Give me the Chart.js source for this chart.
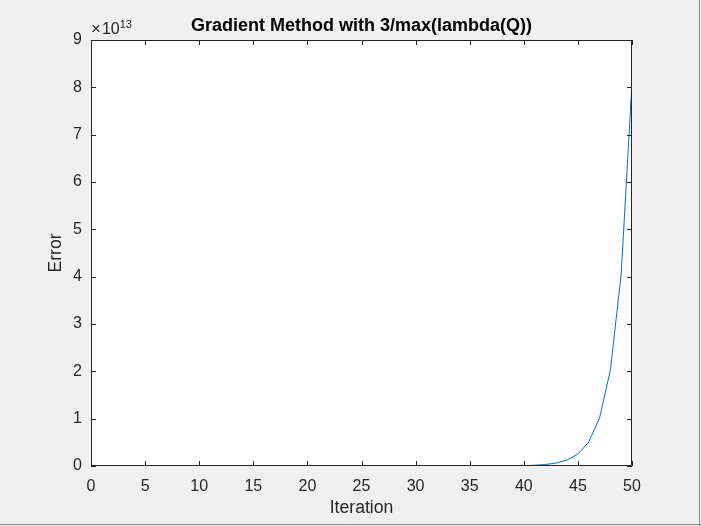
<!DOCTYPE html>
<html>
<head>
<meta charset="utf-8">
<script src="https://cdn.jsdelivr.net/npm/chart.js@4"></script>
<style>
  html, body { margin: 0; padding: 0; background: #f0f0f0; }
  #wrap { width: 701px; height: 526px; position: relative; }
</style>
</head>
<body>
<div id="wrap"><canvas id="chart" width="701" height="526"></canvas></div>
<script>
// Data (error in units of 1e13)
var iterations = [1, 2, 3, 4, 5, 6, 7, 8, 9, 10,
    11, 12, 13, 14, 15, 16, 17, 18, 19, 20,
    21, 22, 23, 24, 25, 26, 27, 28, 29, 30,
    31, 32, 33, 34, 35, 36, 37, 38, 39, 40,
    41, 42, 43, 44, 45, 46, 47, 48, 49, 50];
var errorVals = [0, 0, 0, 0, 0, 0, 0, 0, 0, 0,
    0, 0, 0, 0, 0, 0, 0, 0, 0, 0,
    0, 0, 0, 0, 0, 0, 0, 0, 0, 0,
    0, 0, 0, 0.0001, 0.0002, 0.0005, 0.0010, 0.0020, 0.0040, 0.0079,
    0.0158, 0.0316, 0.0633, 0.1266, 0.2531, 0.5063, 1.0125, 2.025, 4.05, 8.1];
var xTicks = [0, 5, 10, 15, 20, 25, 30, 35, 40, 45, 50];
var yTicks = [0, 1, 2, 3, 4, 5, 6, 7, 8, 9];

var titleText = 'Gradient Method with 3/max(lambda(Q))';
var fontFam = "'Liberation Sans', Arial, Helvetica, sans-serif";
var axisColor = '#262626';

// Figure background, white axes, box + inward ticks, title, exponent
var matlabAxes = {
    id: 'matlabAxes',
    beforeDraw: function (chart) {
        const ctx = chart.ctx;
        const a = chart.chartArea;
        ctx.save();
        ctx.fillStyle = '#f0f0f0';
        ctx.fillRect(0, 0, chart.width, chart.height);
        ctx.fillStyle = '#ffffff';
        ctx.fillRect(a.left, a.top, a.right - a.left, a.bottom - a.top);
        ctx.restore();
    },
    afterDraw: function (chart) {
        const ctx = chart.ctx;
        const a = chart.chartArea;
        const xs = chart.scales.x;
        const ys = chart.scales.y;
        const tl = 5;
        ctx.save();
        ctx.strokeStyle = axisColor;
        ctx.lineWidth = 1;
        ctx.beginPath();
        ctx.rect(Math.round(a.left) + 0.5, Math.round(a.top) + 0.5,
            Math.round(a.right - a.left) - 1, Math.round(a.bottom - a.top) - 1);
        xTicks.forEach(function (v) {
            const px = Math.round(xs.getPixelForValue(v)) + 0.5;
            ctx.moveTo(px, a.bottom);
            ctx.lineTo(px, a.bottom - tl);
            ctx.moveTo(px, a.top);
            ctx.lineTo(px, a.top + tl);
        });
        yTicks.forEach(function (v) {
            const py = Math.round(ys.getPixelForValue(v)) + 0.5;
            ctx.moveTo(a.left, py);
            ctx.lineTo(a.left + tl, py);
            ctx.moveTo(a.right, py);
            ctx.lineTo(a.right - tl, py);
        });
        ctx.stroke();

        // title
        ctx.fillStyle = '#000000';
        ctx.font = 'bold 18px ' + fontFam;
        ctx.textAlign = 'center';
        ctx.textBaseline = 'alphabetic';
        ctx.fillText(titleText, (a.left + a.right) / 2, 31);

        // exponent label
        ctx.fillStyle = axisColor;
        ctx.textAlign = 'left';
        ctx.font = '17px ' + fontFam;
        ctx.fillText('\u00d7', a.left, 34);
        let w = ctx.measureText('\u00d7').width + 1;
        ctx.font = '16px ' + fontFam;
        ctx.fillText('10', a.left + w, 34);
        w += ctx.measureText('10').width;
        ctx.font = '11px ' + fontFam;
        ctx.fillText('13', a.left + w, 28);

        // window frame edges
        ctx.strokeStyle = '#8a8a8a';
        ctx.beginPath();
        ctx.moveTo(699.5, 0);
        ctx.lineTo(699.5, 526);
        ctx.moveTo(0, 524.5);
        ctx.lineTo(701, 524.5);
        ctx.stroke();
        ctx.restore();
    }
};

new Chart(document.getElementById('chart'), {
    type: 'line',
    data: {
        datasets: [{
            data: iterations.map((x, i) => ({ x: x, y: errorVals[i] })),
            borderColor: '#0072BD',
            borderWidth: 1,
            pointRadius: 0,
            tension: 0,
            fill: false,
        }],
    },
    options: {
        responsive: false,
        animation: false,
        layout: { padding: { top: 40, right: 69, left: 0, bottom: 0 } },
        plugins: {
            legend: { display: false },
            tooltip: { enabled: false },
        },
        scales: {
            x: {
                type: 'linear',
                min: 0,
                max: 50,
                afterFit: function (s) { s.height = 60; },
                afterBuildTicks: function (s) { s.ticks = xTicks.map(v => ({ value: v })); },
                grid: { display: false, drawTicks: false },
                border: { display: false },
                ticks: {
                    padding: 11,
                    maxRotation: 0,
                    autoSkip: false,
                    color: axisColor,
                    font: { family: fontFam, size: 16 },
                },
                title: {
                    display: true,
                    text: 'Iteration',
                    color: axisColor,
                    font: { family: fontFam, size: 17.6 },
                    padding: { top: 0, bottom: 7 },
                },
            },
            y: {
                min: 0,
                max: 9,
                afterFit: function (s) { s.width = 91; },
                afterBuildTicks: function (s) { s.ticks = yTicks.map(v => ({ value: v })); },
                grid: { display: false, drawTicks: false },
                border: { display: false },
                ticks: {
                    padding: 9,
                    autoSkip: false,
                    color: axisColor,
                    font: { family: fontFam, size: 16 },
                },
                title: {
                    display: true,
                    text: 'Error',
                    color: axisColor,
                    font: { family: fontFam, size: 17.6 },
                    padding: { top: 46, bottom: 0 },
                },
            },
        },
    },
    plugins: [matlabAxes],
});
</script>
</body>
</html>
